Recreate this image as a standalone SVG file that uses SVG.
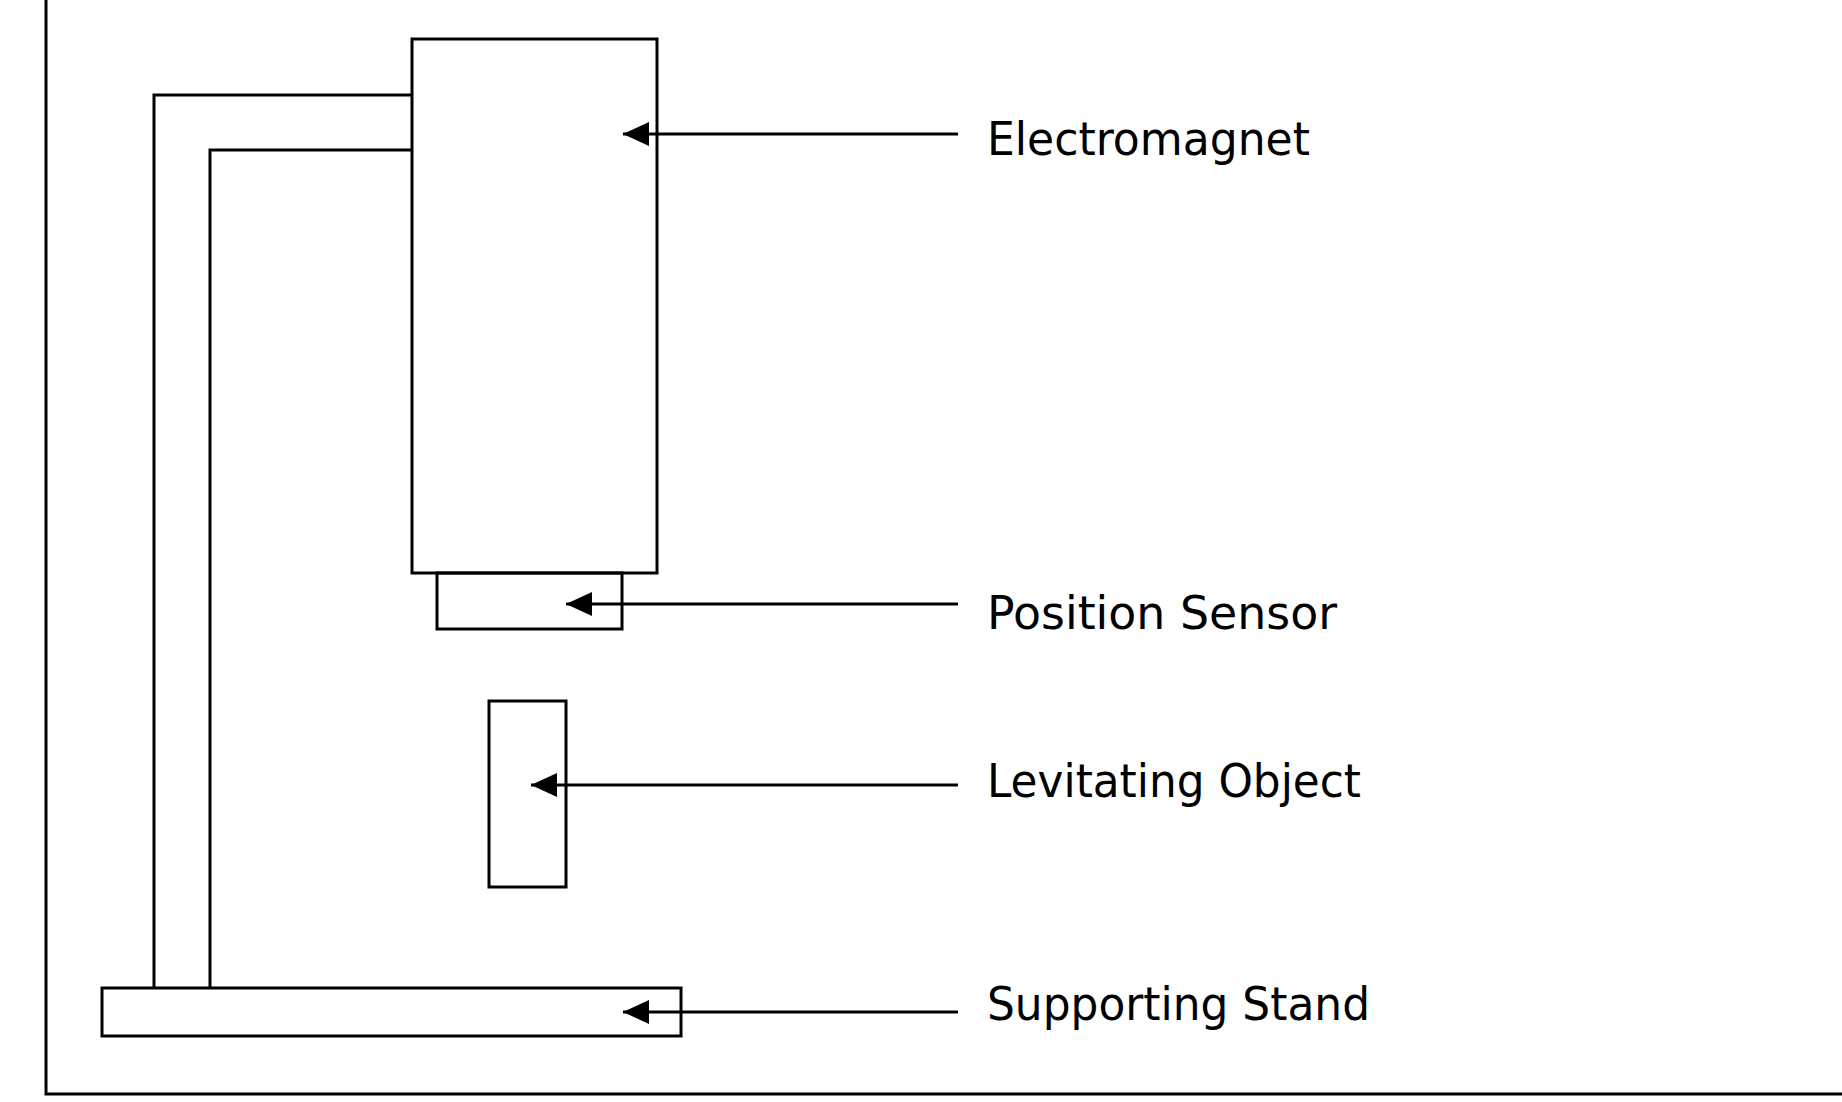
<svg xmlns="http://www.w3.org/2000/svg" width="1842" height="1102" viewBox="0 0 1842 1102">
<style>
.s{fill:none;stroke:#000;stroke-width:3}
.t{font-family:"DejaVu Sans",sans-serif;font-size:46px;fill:#000}
</style>
<defs>
<marker id="ah" viewBox="0 0 26 24" refX="26" refY="12" markerWidth="26" markerHeight="24" markerUnits="userSpaceOnUse" orient="auto"><path d="M0,0 L26,12 L0,24 Z" fill="#000"/></marker></defs>
<rect width="1842" height="1102" fill="#fff"/>
<g id="frame"><path class="s" d="M46,0 V1094 H1842"/></g>
<g id="stand"><path class="s" d="M154,988 V95 H412 M210,988 V150 H412"/><rect class="s" x="102" y="988" width="579" height="48"/></g>
<g id="electromagnet"><rect class="s" x="412" y="39" width="245" height="534" fill="#fff"/></g>
<g id="sensor"><rect class="s" x="437" y="573" width="185" height="56"/></g>
<g id="object"><rect class="s" x="489" y="701" width="77" height="186"/></g>
<g id="connectors" class="s">
<line x1="958" y1="134" x2="623" y2="134" marker-end="url(#ah)"/>
<line x1="958" y1="604" x2="566" y2="604" marker-end="url(#ah)"/>
<line x1="958" y1="785" x2="531" y2="785" marker-end="url(#ah)"/>
<line x1="958" y1="1012" x2="623" y2="1012" marker-end="url(#ah)"/>
</g>
<g id="labels">
<text class="t" x="987" y="155" textLength="323" lengthAdjust="spacingAndGlyphs">Electromagnet</text>
<text class="t" x="987" y="629" textLength="350" lengthAdjust="spacingAndGlyphs">Position Sensor</text>
<text class="t" x="987" y="797" textLength="374" lengthAdjust="spacingAndGlyphs">Levitating Object</text>
<text class="t" x="987" y="1020" textLength="383" lengthAdjust="spacingAndGlyphs">Supporting Stand</text>
</g>
</svg>
